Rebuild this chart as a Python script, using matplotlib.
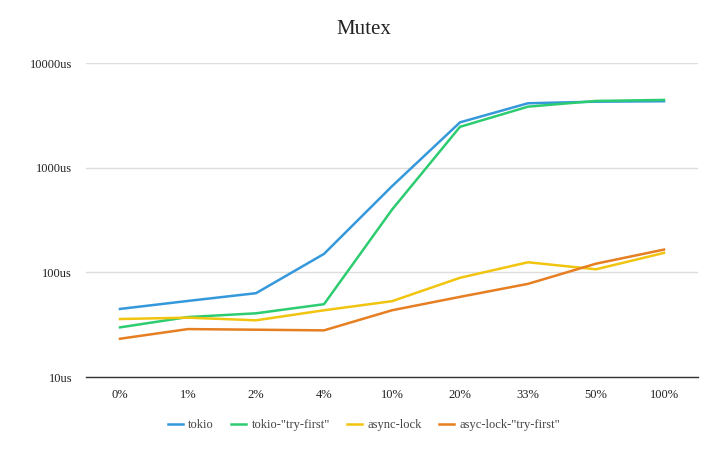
import matplotlib
matplotlib.use("Agg")
import matplotlib.pyplot as plt
from matplotlib.ticker import FixedLocator, NullLocator

categories = ["0%", "1%", "2%", "4%", "10%", "20%", "33%", "50%", "100%"]
tokio = [44.7, 53.3, 63.2, 150, 665, 2710, 4125, 4270, 4310]
tokio_try_first = [29.8, 37.4, 40.6, 49.6, 397, 2456, 3827, 4340, 4437]
async_lock = [35.8, 36.9, 34.8, 43.4, 53, 88.7, 124.8, 106.9, 153.3]
async_lock_try_first = [23.2, 28.7, 28.3, 27.9, 43.4, 58.3, 77.6, 121, 164.9]
series_names = ["tokio", 'tokio-"try-first"', "async-lock", 'asyc-lock-"try-first"']
colors = ["#3498db", "#2ecc71", "#f1c40f", "#e67e22"]
yticks = [10, 100, 1000, 10000]
ytick_labels = ["10us", "100us", "1000us", "10000us"]

plt.rcParams["font.family"] = ["Liberation Serif", "DejaVu Serif"]

fig = plt.figure(figsize=(7.28, 4.49), dpi=100)
ax = fig.add_axes([86/728, 1 - 377/449, 612/728, (377 - 63)/449])

x = list(range(len(categories)))
for name, vals, c in zip(series_names, [tokio, tokio_try_first, async_lock, async_lock_try_first], colors):
    ax.plot(x, vals, color=c, lw=1.8, label=name)

ax.set_yscale("log")
ax.set_ylim(10, 10000)
ax.set_xlim(-0.5, len(categories) - 0.5)
ax.yaxis.set_major_locator(FixedLocator(yticks))
ax.yaxis.set_minor_locator(NullLocator())
ax.set_yticks(yticks)
ax.set_yticklabels(ytick_labels)
ax.set_xticks(x)
ax.set_xticklabels(categories)
ax.tick_params(axis="both", length=0, labelsize=9, colors="#222222")
ax.tick_params(axis="y", pad=10)
ax.tick_params(axis="x", pad=9)
ax.grid(axis="y", color="#dddddd", lw=1)
ax.set_axisbelow(True)
for s in ["left", "right", "top"]:
    ax.spines[s].set_visible(False)
ax.spines["bottom"].set_color("#333333")
ax.spines["bottom"].set_linewidth(1)

fig.text(364/728, 1 - 29/449, "Mutex", ha="center", va="center", fontsize=15, color="#222222")

leg = fig.legend(loc="center", bbox_to_anchor=(364/728, 1 - 425/449), ncol=4, frameon=False,
                 fontsize=9, handlelength=1.2, handletextpad=0.4, columnspacing=1.4)
for t in leg.get_texts():
    t.set_color("#444444")

fig.savefig("out.png", dpi=100)
